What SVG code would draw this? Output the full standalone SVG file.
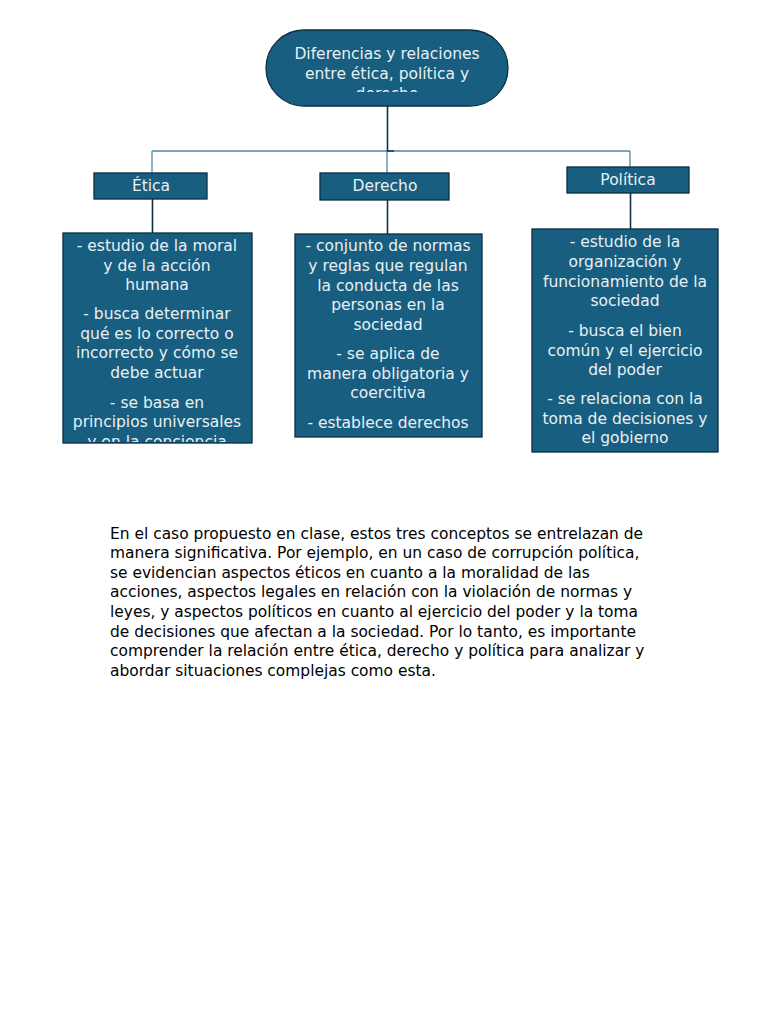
<svg xmlns="http://www.w3.org/2000/svg" width="768" height="1024" viewBox="0 0 768 1024">
<style>
.box{fill:#175e80;stroke:#0c2f40;stroke-width:1.3}
.t{font-family:"DejaVu Sans",sans-serif;font-size:15.5px;fill:#e9f0f3;text-anchor:middle}
.p{font-family:"DejaVu Sans",sans-serif;font-size:15.45px;fill:#000}
.dk{stroke:#0f3345;stroke-width:1.6;fill:none}
.lt{stroke:#4f88a3;stroke-width:1.3;fill:none}
</style>
<defs>
<clipPath id="c0"><rect x="266" y="30" width="242" height="62"/></clipPath>
<clipPath id="c1"><rect x="63" y="233" width="189" height="209"/></clipPath>
</defs>
<rect width="768" height="1024" fill="#fff"/>
<g id="connectors">
<path class="lt" d="M152 151H630M152 151V173M387 151V173M630 151V167"/>
<path class="dk" d="M387.5 106V151H394"/>
<path class="dk" d="M152.5 199V233M387.5 200V234M630.5 193V229"/>
</g>
<g id="title">
<rect class="box" x="266" y="30" width="242" height="76" rx="38"/>
<g clip-path="url(#c0)">
<text class="t" x="387" y="59">Diferencias y relaciones</text>
<text class="t" x="387" y="79">entre ética, política y</text>
<text class="t" x="387" y="99">derecho</text>
</g>
</g>
<g id="etica">
<rect class="box" x="94" y="173" width="113" height="26"/>
<text class="t" x="151" y="191">Ética</text>
</g>
<g id="derecho">
<rect class="box" x="320" y="173" width="129" height="27"/>
<text class="t" x="385" y="191">Derecho</text>
</g>
<g id="politica">
<rect class="box" x="567" y="167" width="122" height="26"/>
<text class="t" x="628" y="185">Política</text>
</g>
<g id="etica-desc">
<rect class="box" x="63" y="233" width="189" height="210"/>
<g clip-path="url(#c1)">
<text class="t" x="157" y="251">- estudio de la moral</text>
<text class="t" x="157" y="271">y de la acción</text>
<text class="t" x="157" y="290">humana</text>
<text class="t" x="157" y="319">- busca determinar</text>
<text class="t" x="157" y="339">qué es lo correcto o</text>
<text class="t" x="157" y="358">incorrecto y cómo se</text>
<text class="t" x="157" y="378">debe actuar</text>
<text class="t" x="157" y="408">- se basa en</text>
<text class="t" x="157" y="427">principios universales</text>
<text class="t" x="157" y="447">y en la conciencia</text>
</g>
</g>
<g id="derecho-desc">
<rect class="box" x="295" y="234" width="187" height="203"/>
<text class="t" x="388" y="251">- conjunto de normas</text>
<text class="t" x="388" y="271">y reglas que regulan</text>
<text class="t" x="388" y="291">la conducta de las</text>
<text class="t" x="388" y="310">personas en la</text>
<text class="t" x="388" y="330">sociedad</text>
<text class="t" x="388" y="359">- se aplica de</text>
<text class="t" x="388" y="379">manera obligatoria y</text>
<text class="t" x="388" y="398">coercitiva</text>
<text class="t" x="388" y="428">- establece derechos</text>
</g>
<g id="politica-desc">
<rect class="box" x="532" y="229" width="186" height="223"/>
<text class="t" x="625" y="247">- estudio de la</text>
<text class="t" x="625" y="267">organización y</text>
<text class="t" x="625" y="287">funcionamiento de la</text>
<text class="t" x="625" y="306">sociedad</text>
<text class="t" x="625" y="336">- busca el bien</text>
<text class="t" x="625" y="356">común y el ejercicio</text>
<text class="t" x="625" y="375">del poder</text>
<text class="t" x="625" y="404">- se relaciona con la</text>
<text class="t" x="625" y="424">toma de decisiones y</text>
<text class="t" x="625" y="443">el gobierno</text>
</g>
<g id="paragraph">
<text class="p" x="110" y="539">En el caso propuesto en clase, estos tres conceptos se entrelazan de</text>
<text class="p" x="110" y="558">manera significativa. Por ejemplo, en un caso de corrupción política,</text>
<text class="p" x="110" y="578">se evidencian aspectos éticos en cuanto a la moralidad de las</text>
<text class="p" x="110" y="597">acciones, aspectos legales en relación con la violación de normas y</text>
<text class="p" x="110" y="617">leyes, y aspectos políticos en cuanto al ejercicio del poder y la toma</text>
<text class="p" x="110" y="637">de decisiones que afectan a la sociedad. Por lo tanto, es importante</text>
<text class="p" x="110" y="656">comprender la relación entre ética, derecho y política para analizar y</text>
<text class="p" x="110" y="676">abordar situaciones complejas como esta.</text>
</g>
</svg>
